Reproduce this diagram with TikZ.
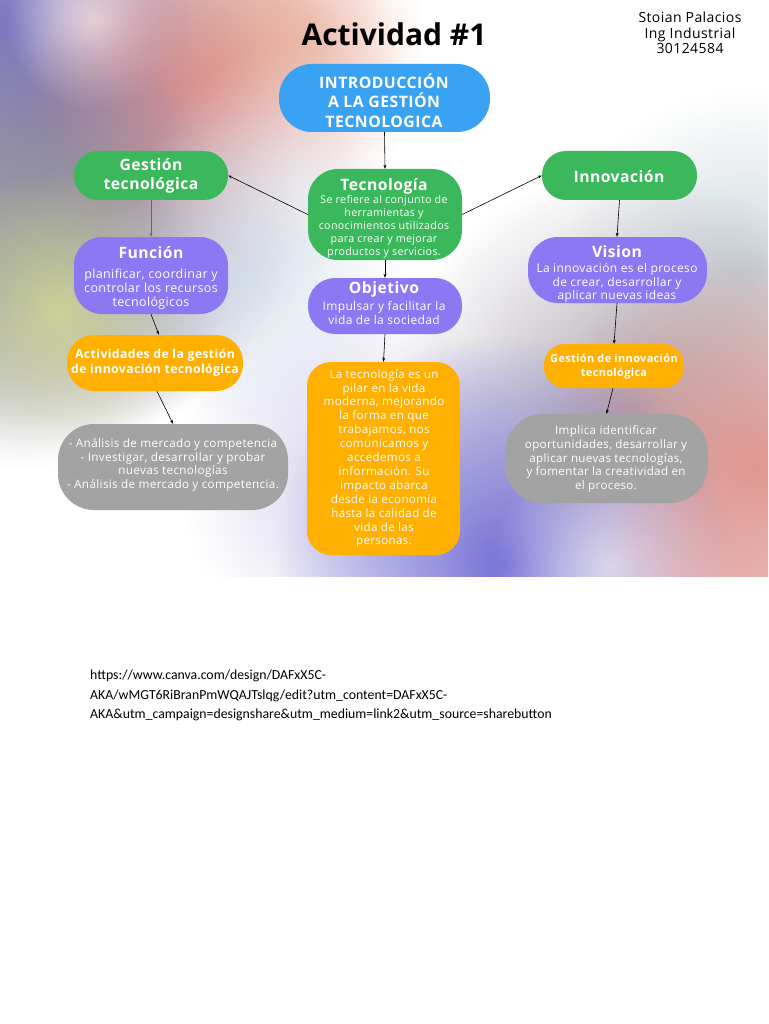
\documentclass[tikz,border=0pt]{standalone}
\usepackage{fontspec}
\setmainfont{Open Sans}[LetterSpace=3]
\newfontfamily\titlefont{Open Sans}
\newfontfamily\urlfont{Carlito}
\usetikzlibrary{fadings,arrows.meta}
\tikzfading[name=myfade, inner color=transparent!0, outer color=transparent!100]
\definecolor{cgreen}{HTML}{3BB75C}
\definecolor{cblue}{HTML}{3AA2F2}
\definecolor{cpurple}{HTML}{8C78F2}
\definecolor{corange}{HTML}{FFB000}
\definecolor{cgray}{HTML}{A3A3A3}
\definecolor{bgviolet}{HTML}{6F68C0}
\definecolor{bgpurple}{HTML}{8A7C9E}
\definecolor{bgsalmon}{HTML}{D98585}
\definecolor{bgpeach}{HTML}{F0B090}
\definecolor{bggray}{HTML}{98A0A0}
\definecolor{bgyellow}{HTML}{DCE38E}
\definecolor{bgsky}{HTML}{C8D8E6}
\definecolor{bgsteel}{HTML}{B9C9D0}
\definecolor{bgmauve}{HTML}{A29AA6}
\definecolor{bgred}{HTML}{E08C84}
\definecolor{bgblue}{HTML}{6E68D4}
\definecolor{bglav}{HTML}{B8B0E0}
\definecolor{bgrose}{HTML}{E6A4A0}
\begin{document}
\begin{tikzpicture}[x=1pt,y=-1pt,
  box/.style={inner sep=0pt, draw=none},
  ttl/.style={text=white, font=\bfseries\fontsize{15.7}{18.5}\selectfont, align=center, inner sep=0pt},
  body/.style={text=white, align=center, inner sep=0pt},
  conn/.style={-{Stealth[length=4pt,width=3pt]}, line width=0.6pt, black},
  blob/.style={path fading=myfade}]
\useasboundingbox (0,0) rectangle (768,1024);
\fill[white] (0,0) rectangle (768,1024);
% background
\begin{scope}
\clip (0,0) rectangle (768,576);
\fill[bgpurple, blob, opacity=0.9] (60,130) circle (300pt);
\fill[bgpurple, blob, opacity=0.8] (40,190) circle (260pt);
\fill[bgviolet, blob, opacity=0.8] (10,20) circle (180pt);
\fill[white, blob, opacity=0.8] (95,20) circle (90pt);
\fill[bgsalmon, blob, opacity=0.9] (215,85) circle (190pt);
\fill[bgpeach, blob, opacity=0.6] (285,40) circle (140pt);
\fill[bggray, blob, opacity=0.8] (15,250) circle (220pt);
\fill[bgyellow, blob, opacity=0.7] (60,310) circle (140pt);
\fill[white, blob, opacity=0.7] (300,200) circle (160pt);
\fill[bgsky, blob, opacity=0.6] (250,270) circle (160pt);
\fill[bgsteel, blob, opacity=0.7] (745,270) circle (180pt);
\fill[bgmauve, blob, opacity=0.85] (630,410) circle (240pt);
\fill[bgred, blob, opacity=0.9] (755,470) circle (220pt);
\fill[bglav, blob, opacity=0.6] (360,480) circle (180pt);
\fill[bgblue, blob, opacity=0.95] (505,565) circle (230pt);
\fill[white, blob, opacity=0.6] (610,565) circle (120pt);
\fill[bgrose, blob, opacity=0.7] (745,565) circle (140pt);
\end{scope}
% title and author
\node[font=\titlefont\bfseries\fontsize{30}{36}\selectfont, inner sep=0pt] (title) at (394,34) {Actividad \#1};
\node[font=\fontsize{14}{15.5}\selectfont, align=center, inner sep=0pt] (author) at (690,33) {Stoian Palacios\\Ing Industrial\\30124584};
% boxes
\node[box, fill=cblue, minimum width=211pt, minimum height=68pt, rounded corners=33pt] (intro) at (384.5,98) {};
\node[box, fill=cgreen, minimum width=154pt, minimum height=49pt, rounded corners=24pt] (gt) at (151,175.5) {};
\node[box, fill=cgreen, minimum width=154pt, minimum height=91pt, rounded corners=30pt] (tec) at (385,214.5) {};
\node[box, fill=cgreen, minimum width=155pt, minimum height=49pt, rounded corners=24pt] (inn) at (619.5,175.5) {};
\node[box, fill=cpurple, minimum width=154pt, minimum height=77pt, rounded corners=28pt] (fun) at (151,275.5) {};
\node[box, fill=cpurple, minimum width=154pt, minimum height=56pt, rounded corners=27pt] (obj) at (385,306) {};
\node[box, fill=cpurple, minimum width=179pt, minimum height=66pt, rounded corners=30pt] (vis) at (617.5,270) {};
\node[box, fill=corange, minimum width=176pt, minimum height=56pt, rounded corners=27pt] (act) at (155,363) {};
\node[box, fill=corange, minimum width=153pt, minimum height=193pt, rounded corners=24pt] (imp) at (383.5,458.5) {};
\node[box, fill=corange, minimum width=140pt, minimum height=44pt, rounded corners=21pt] (gin) at (614,366) {};
\node[box, fill=cgray, minimum width=230pt, minimum height=86pt, rounded corners=36pt] (gl) at (173,467) {};
\node[box, fill=cgray, minimum width=203pt, minimum height=89pt, rounded corners=38pt] (gr) at (606.5,458.5) {};
% texts
\node[ttl, font=\bfseries\fontsize{15.8}{19.5}\selectfont] (intro-t) at (384,100.5) {INTRODUCCIÓN\\A LA GESTIÓN\\TECNOLOGICA};
\node[ttl] (gt-t) at (151,176) {Gestión\\tecnológica};
\node[ttl] (inn-t) at (619,176.5) {Innovación};
\node[ttl] (tec-t) at (384,186) {Tecnología};
\node[body, font=\fontsize{10.7}{13}\selectfont] (tec-b) at (384,226.5) {Se refiere al conjunto de\\herramientas y\\conocimientos utilizados\\para crear y mejorar\\productos y servicios.};
\node[ttl] (fun-t) at (151,253) {Función};
\node[body, font=\fontsize{12.5}{14}\selectfont] (fun-b) at (151,289.5) {planificar, coordinar y\\controlar los recursos\\tecnológicos};
\node[ttl] (obj-t) at (384,289) {Objetivo};
\node[body, font=\fontsize{12}{14}\selectfont] (obj-b) at (384,312.5) {Impulsar y facilitar la\\vida de la sociedad};
\node[ttl] (vis-t) at (617,252) {Vision};
\node[body, font=\fontsize{12}{13.5}\selectfont] (vis-b) at (617,283) {La innovación es el proceso\\de crear, desarrollar y\\aplicar nuevas ideas};
\node[ttl, font=\bfseries\fontsize{12.3}{15}\selectfont] (act-t) at (155,362.5) {Actividades de la gestión\\de innovación tecnológica};
\node[body, font=\fontsize{11.6}{13.9}\selectfont] (imp-b) at (384,458.5) {La tecnología es un\\pilar en la vida\\moderna, mejorando\\la forma en que\\trabajamos, nos\\comunicamos y\\accedemos a\\información. Su\\impacto abarca\\desde la economía\\hasta la calidad de\\vida de las\\personas.};
\node[ttl, font=\bfseries\fontsize{11}{14}\selectfont] (gin-t) at (614,367) {Gestión de innovación\\tecnológica};
\node[body, font=\fontsize{11.7}{13.7}\selectfont] (gl-b) at (173,465) {- Análisis de mercado y competencia\\- Investigar, desarrollar y probar\\nuevas tecnologías\\- Análisis de mercado y competencia.};
\node[body, font=\fontsize{11.6}{13.75}\selectfont] (gr-b) at (606,459) {Implica identificar\\oportunidades, desarrollar y\\aplicar nuevas tecnologías,\\y fomentar la creatividad en\\el proceso.};
% URL
\node[anchor=north west, align=left, inner sep=0pt, font=\urlfont\fontsize{13.8}{19.5}\selectfont] (url) at (90,670) {https://www.canva.com/design/DAFxX5C-\\AKA/wMGT6RiBranPmWQAJTslqg/edit?utm\_content=DAFxX5C-\\AKA\&utm\_campaign=designshare\&utm\_medium=link2\&utm\_source=sharebutton};
% connectors
\draw[conn] (intro.south) -- (tec.north);
\draw[conn] (tec.west) -- (gt.east);
\draw[conn] (tec.east) -- (inn.west);
\draw[conn, draw=black!60] (gt.south) -- (fun.north);
\draw[conn] (tec.south) -- (obj.north);
\draw[conn] (obj.south) -- (imp.north);
\draw[conn] (fun.south) -- ([xshift=4pt]act.north);
\draw[conn] ([xshift=2pt]act.south) -- (gl.north);
\draw[conn] (inn.south) -- ([xshift=-0.5pt]vis.north);
\draw[conn] ([xshift=-0.5pt]vis.south) -- (gin.north);
\draw[conn] ([xshift=-1pt]gin.south) -- (gr.north);
\end{tikzpicture}
\end{document}
